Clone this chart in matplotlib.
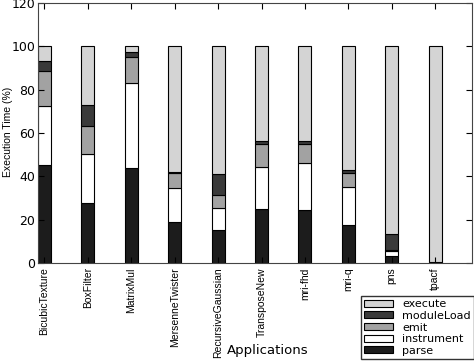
import numpy as np
import matplotlib
matplotlib.use("Agg")
import matplotlib.pyplot as plt

apps = ["BicubicTexture", "BoxFilter", "MatrixMul", "MersenneTwister",
        "RecursiveGaussian", "TransposeNew", "mri-fhd", "mri-q", "pns", "tpacf"]

# percentage of execution time per phase (stacked bottom to top)
parse = [45.4, 27.7, 43.8, 19.2, 15.1, 25.1, 24.6, 17.7, 3.1, 0.3]
instrument = [27.2, 22.6, 39.3, 15.4, 10.3, 19.2, 21.6, 17.2, 2.3, 0.1]
emit = [16.2, 13.1, 12.0, 6.8, 5.8, 10.5, 8.9, 6.9, 0.8, 0.1]
module_load = [4.3, 9.7, 2.1, 0.8, 10.0, 1.4, 1.2, 1.0, 7.2, 0.1]
execute = [6.9, 26.9, 2.8, 57.8, 58.8, 43.8, 43.7, 57.2, 86.6, 99.4]

series = [("parse", parse, "#1c1c1c"),
          ("instrument", instrument, "#ffffff"),
          ("emit", emit, "#a2a2a2"),
          ("moduleLoad", module_load, "#3a3a3a"),
          ("execute", execute, "#d4d4d4")]

narrow = ["Liberation Sans", "DejaVu Sans"]

fig = plt.figure(figsize=(4.74, 3.61), dpi=100)
ax = fig.add_axes([0.080, 0.271, 0.916, 0.721])

x = np.arange(len(apps))
width = 0.3
bottom = np.zeros(len(apps))
handles = []
for name, vals, color in series:
    b = ax.bar(x, vals, width, bottom=bottom, align="edge", color=color,
               edgecolor="black", linewidth=0.8, label=name)
    handles.append(b)
    bottom += np.array(vals)

ax.set_xlim(0, 10)
ax.set_ylim(0, 120)
ax.set_yticks(range(0, 121, 20))
ax.set_xticks(x + width / 2)
ax.set_xticklabels(apps, rotation=90, fontsize=7.5, family=narrow)
ax.tick_params(axis="y", labelsize=9, pad=2)
ax.tick_params(axis="x", pad=3)
ax.tick_params(direction="in", top=True, right=True, length=4)
for s in ax.spines.values():
    s.set_color("#444444")

fig.text(0.017, 0.634, "Execution Time (%)", rotation=90, ha="center",
         va="center", fontsize=7.5, family=narrow)
fig.text(0.565, 0.03, "Applications", ha="center", va="center", fontsize=9.5)

fig.legend(handles[::-1], [s[0] for s in series][::-1],
           loc="lower right", bbox_to_anchor=(1.0, 0.005), fontsize=8,
           frameon=True, fancybox=False, edgecolor="black",
           handlelength=2.6, handleheight=0.6, labelspacing=0.15,
           borderpad=0.3, handletextpad=0.8, borderaxespad=0.0)

fig.savefig("out.png", dpi=100)
